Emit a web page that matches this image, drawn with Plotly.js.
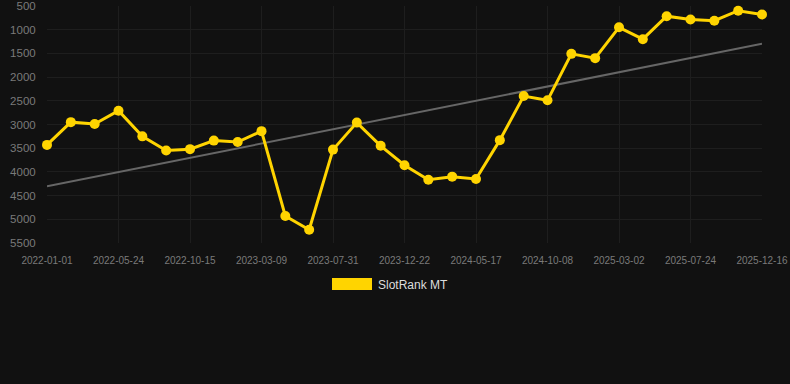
<!DOCTYPE html>
<html>
<head>
<meta charset="utf-8">
<script src="https://cdn.plot.ly/plotly-3.0.1.min.js"></script>
<style>
html,body{margin:0;padding:0;background:#111111;}
#chart{width:790px;height:384px;}
</style>
</head>
<body>
<div id="chart"></div>
<script>
const dates = [
  "2022-01-01","2022-02-18","2022-04-07","2022-05-24","2022-07-11","2022-08-28",
  "2022-10-15","2022-12-02","2023-01-19","2023-03-09","2023-04-26","2023-06-13",
  "2023-07-31","2023-09-17","2023-11-04","2023-12-22","2024-02-09","2024-03-29",
  "2024-05-17","2024-07-04","2024-08-21","2024-10-08","2024-11-25","2025-01-13",
  "2025-03-02","2025-04-19","2025-06-06","2025-07-24","2025-09-10","2025-10-28",
  "2025-12-16"
];
const rankMT = [
  3430, 2950, 2990, 2710, 3250, 3550,
  3520, 3340, 3370, 3140, 4930, 5220,
  3530, 2960, 3450, 3860, 4165, 4100,
  4150, 3330, 2400, 2490, 1510, 1600,
  950, 1200, 715, 785, 810, 600,
  680
];
const trendX = ["2022-01-01", "2025-12-16"];
const trendY = [4305, 1295];
const tickLabels = ["2022-01-01","2022-05-24","2022-10-15","2023-03-09","2023-07-31",
  "2023-12-22","2024-05-17","2024-10-08","2025-03-02","2025-07-24","2025-12-16"];
const yTicks = [500,1000,1500,2000,2500,3000,3500,4000,4500,5000,5500];
const seriesName = "SlotRank MT";

const yellow = "#FFD400";
const grid = "#1e1e1e";
const fontFam = "Arial, 'Liberation Sans', sans-serif";

const traces = [
  {
    x: trendX, y: trendY, type: "scatter", mode: "lines",
    line: {color: "#666666", width: 2}, hoverinfo: "skip", showlegend: false,
    cliponaxis: false
  },
  {
    x: dates, y: rankMT, type: "scatter", mode: "lines+markers", name: seriesName,
    line: {color: yellow, width: 3},
    marker: {color: yellow, size: 10},
    showlegend: false, cliponaxis: false
  }
];

const layout = {
  width: 790, height: 384,
  paper_bgcolor: "#111111", plot_bgcolor: "#111111",
  margin: {l: 47, r: 28, t: 6, b: 141},
  font: {family: fontFam, color: "#888888"},
  showlegend: false,
  xaxis: {
    type: "category",
    categoryorder: "array", categoryarray: dates,
    range: [0, dates.length - 1],
    tickmode: "array", tickvals: tickLabels, ticktext: tickLabels,
    tickfont: {size: 10, color: "#7a7a7a"},
    showgrid: true, gridcolor: grid, gridwidth: 1,
    ticks: "outside", ticklen: 8, tickcolor: "rgba(0,0,0,0)",
    showline: false, zeroline: false
  },
  yaxis: {
    range: [5500, 500],
    tickmode: "array", tickvals: yTicks,
    tickfont: {size: 11.5, color: "#7a7a7a"},
    showgrid: true, gridcolor: grid, gridwidth: 1,
    ticks: "outside", ticklen: 8, tickcolor: "rgba(0,0,0,0)",
    showline: false, zeroline: false
  },
  shapes: [
    {type: "rect", xref: "paper", yref: "paper",
     x0: (332-47)/715, x1: (372-47)/715, y0: (243-290)/237, y1: (243-278)/237,
     fillcolor: yellow, line: {width: 0}}
  ],
  annotations: [
    {xref: "paper", yref: "paper", x: (376-47)/715, y: (243-284.5)/237,
     xanchor: "left", yanchor: "middle", showarrow: false,
     text: seriesName, font: {size: 12, color: "#dddddd", family: fontFam}}
  ]
};

Plotly.newPlot("chart", traces, layout, {displayModeBar: false, staticPlot: true});
</script>
</body>
</html>
